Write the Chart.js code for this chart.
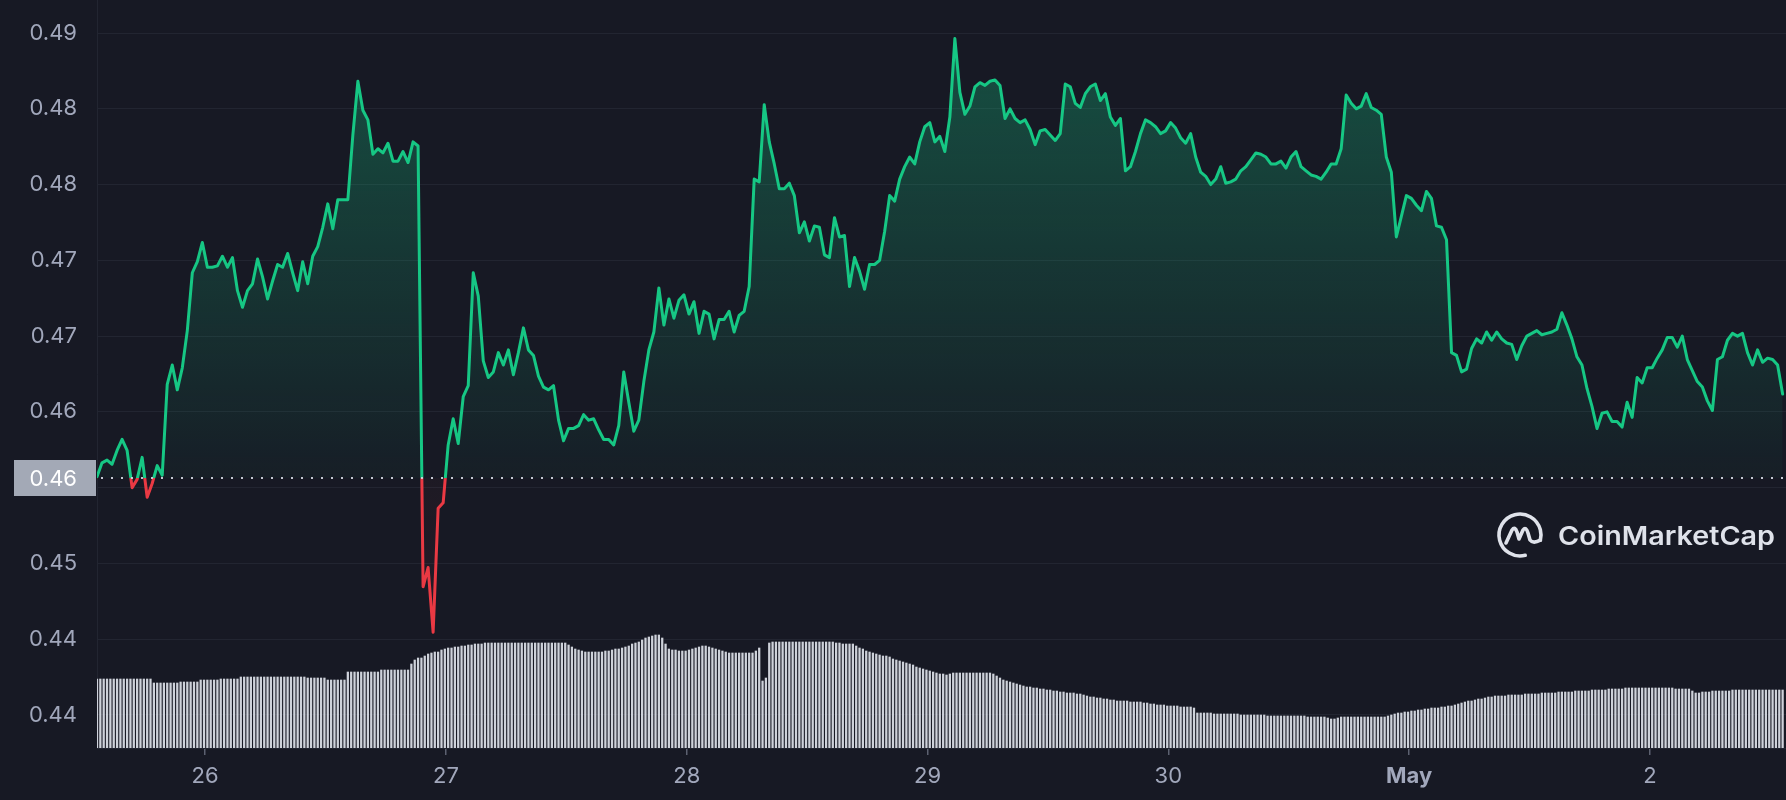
<!DOCTYPE html>
<html lang="en">
<head>
<meta charset="UTF-8">
<title>Price Chart</title>
<script src="https://cdn.jsdelivr.net/npm/chart.js"></script>
<style>
  html, body { margin: 0; padding: 0; background: #171924; }
  #wrap { width: 1786px; height: 800px; }
</style>
</head>
<body>
<div id="wrap"><canvas id="myChart" width="1786" height="800"></canvas></div>
<script>
// price, one point every 30 min over the 7 days
const PRICE = [
  0.4558, 0.4568, 0.4570, 0.4567, 0.4577, 0.4585, 0.4577, 0.4550, 0.4556, 0.4572,
  0.4543, 0.4553, 0.4566, 0.4559, 0.4625, 0.4639, 0.4621, 0.4637, 0.4664, 0.4706,
  0.4714, 0.4728, 0.4710, 0.4710, 0.4711, 0.4718, 0.4710, 0.4717, 0.4693, 0.4681,
  0.4693, 0.4698, 0.4716, 0.4703, 0.4687, 0.4700, 0.4712, 0.4710, 0.4720, 0.4706,
  0.4693, 0.4714, 0.4698, 0.4718, 0.4725, 0.4739, 0.4756, 0.4738, 0.4759, 0.4759,
  0.4759, 0.4806, 0.4845, 0.4824, 0.4817, 0.4792, 0.4796, 0.4793, 0.4800, 0.4787,
  0.4787, 0.4794, 0.4786, 0.4801, 0.4798, 0.4478, 0.4492, 0.4445, 0.4535, 0.4539,
  0.4581, 0.4600, 0.4582, 0.4616, 0.4624, 0.4706, 0.4689, 0.4642, 0.4630, 0.4634,
  0.4648, 0.4639, 0.4650, 0.4632, 0.4648, 0.4666, 0.4650, 0.4646, 0.4631, 0.4623,
  0.4621, 0.4624, 0.4599, 0.4584, 0.4593, 0.4593, 0.4595, 0.4603, 0.4599, 0.4600,
  0.4592, 0.4585, 0.4585, 0.4581, 0.4595, 0.4634, 0.4612, 0.4591, 0.4599, 0.4627,
  0.4650, 0.4663, 0.4695, 0.4668, 0.4687, 0.4673, 0.4686, 0.4690, 0.4676, 0.4685,
  0.4662, 0.4678, 0.4676, 0.4658, 0.4672, 0.4672, 0.4678, 0.4663, 0.4675, 0.4678,
  0.4696, 0.4774, 0.4772, 0.4828, 0.4801, 0.4785, 0.4767, 0.4767, 0.4771, 0.4762,
  0.4735, 0.4743, 0.4729, 0.4740, 0.4739, 0.4719, 0.4717, 0.4746, 0.4732, 0.4733,
  0.4696, 0.4717, 0.4707, 0.4694, 0.4712, 0.4712, 0.4715, 0.4736, 0.4762, 0.4758,
  0.4774, 0.4783, 0.4790, 0.4785, 0.4801, 0.4812, 0.4815, 0.4801, 0.4805, 0.4794,
  0.4819, 0.4876, 0.4837, 0.4821, 0.4827, 0.4841, 0.4844, 0.4842, 0.4845, 0.4846,
  0.4842, 0.4818, 0.4825, 0.4818, 0.4815, 0.4817, 0.4810, 0.4799, 0.4809, 0.4810,
  0.4806, 0.4802, 0.4807, 0.4843, 0.4841, 0.4829, 0.4826, 0.4836, 0.4841, 0.4843,
  0.4831, 0.4836, 0.4819, 0.4813, 0.4818, 0.4780, 0.4783, 0.4794, 0.4807, 0.4817,
  0.4815, 0.4812, 0.4807, 0.4809, 0.4815, 0.4811, 0.4804, 0.4800, 0.4807, 0.4790,
  0.4779, 0.4776, 0.4770, 0.4774, 0.4783, 0.4771, 0.4772, 0.4774, 0.4780, 0.4783,
  0.4788, 0.4793, 0.4792, 0.4790, 0.4785, 0.4785, 0.4787, 0.4782, 0.4790, 0.4794,
  0.4783, 0.4780, 0.4777, 0.4776, 0.4774, 0.4779, 0.4785, 0.4785, 0.4796, 0.4835,
  0.4829, 0.4825, 0.4827, 0.4836, 0.4826, 0.4824, 0.4821, 0.4790, 0.4779, 0.4732,
  0.4747, 0.4762, 0.4760, 0.4755, 0.4751, 0.4765, 0.4760, 0.4740, 0.4739, 0.4730,
  0.4648, 0.4646, 0.4634, 0.4636, 0.4651, 0.4658, 0.4655, 0.4663, 0.4657, 0.4663,
  0.4658, 0.4655, 0.4654, 0.4643, 0.4653, 0.4660, 0.4662, 0.4664, 0.4661, 0.4662,
  0.4663, 0.4665, 0.4677, 0.4668, 0.4658, 0.4645, 0.4639, 0.4622, 0.4609, 0.4593,
  0.4604, 0.4605, 0.4598, 0.4598, 0.4594, 0.4612, 0.4601, 0.4630, 0.4626, 0.4637,
  0.4637, 0.4644, 0.4650, 0.4659, 0.4659, 0.4652, 0.4660, 0.4643, 0.4635, 0.4627,
  0.4623, 0.4613, 0.4606, 0.4643, 0.4645, 0.4657, 0.4662, 0.4660, 0.4662, 0.4648,
  0.4639, 0.4650, 0.4641, 0.4644, 0.4643, 0.4639, 0.4618
];

// 24h volume (M), one bar every 20 min
const VOLUME = [
  69,69,69,69,69,69,69,69,69,69,69,69,69,69,69,69,69,
  65,65,65,65,65,65,65,65, 66,66,66,66,66,66, 68,68,68,68,68,68, 69,69,69,69,69,69,
  71,71,71,71,71,71,71,71,71,71,71,71,71,71,71,71,71,71,71,71,
  70,70,70,70,70,70, 68,68,68,68,68,68,
  76,76,76,76,76,76,76,76,76,76, 78,78,78,78,78,78,78,78,78,
  84,88,90,90, 92,94,95,96,96, 98,99,100,100,101,101,102,102, 103,103,104,104,104,105,105,
  105,105,105,105,105,105,105,105,105,105,105,105,105,105,105,105,105,105,105,105,105,105,105,
  103,101,99,98,97,96,96,96, 96,96,96,97,97,98,99, 99,100,101,102,104,105,106,
  108,110,111,112,113,113, 110,104,99, 98,98,97,97,97, 98,99,100,101,102,102,
  101,100,99, 98,97,96,95,95, 95,95,95,95,95,95, 97,100, 67,70,
  105,106,106,106,106,106,106,106, 106,106,106,106,106,106,106,106,106,106,106,106,
  105,105,104,104,104,104, 102,100,99,97,96, 95,94,93,92,92,91, 89,88,87,86,85,
  84,83,81,80,79,78, 77,76,75,74,74,73, 74,75,75,75,75,75,75,75,75,75,75,75,75,74,
  72,70,68, 67,66,65,64,63,62, 61,61,60,60,59,59,58,58, 57,57,56,56,55,55,55,54,54,
  53,52,51,51,50,50,49,49,48, 48,47,47,47,47,46,46,46,46, 45,45,44,44,43,43,
  43,42,42,42,42,41,41,41,41,40, 35,35,35,35,35,34,34,34,34,34,34,34,34,
  33,33,33,33,33,33,33,33,32,32,32,32,32,32,32, 32,32,32,32,32,31,31,31,31,31,31,
  30,29,29,30,31, 31,31,31,31,31,31,31,31,31,31,31,31,31, 32,33,34,35,35,
  36,36,37,37,38,38,39,39,40,40,40, 41,41,42,42,43,44, 45,46,47,47,48,49,49,50,51,
  51,52,52,52,52,53,53,53,53,53,54,54,54,54,54,55,55,55,55,55,56,56,56,56,
  56,57,57,57,57,57,58,58,58,58,58,59,59,59,59,59,60,60,60,60,60,60,60,60,
  60,60,60,60,60,60,60,59,59,59,59,59, 57,55,
  55,56,56,56,57,57,57,57,57,57,58,58,58,58,58,58,58,58,58,58,58,58,58,58,58,58
];

const BASELINE = 0.4557;        // opening price of the period
const START_DAY = 25.551;       // Apr 25, ~13:14
const SPAN_DAYS = 7;
const Y_TICKS = [0.4880, 0.4825, 0.4770, 0.4715, 0.4660, 0.4605, 0.4550, 0.4495, 0.4440, 0.4385];
const Y_TICK_LABELS = ['0.49', '0.48', '0.48', '0.47', '0.47', '0.46', '0.45', '0.45', '0.44', '0.44'];
const X_TICKS = [26, 27, 28, 29, 30, 31, 32];
const X_TICK_LABELS = ['26', '27', '28', '29', '30', 'May', '2'];

const GREEN = '#16c784';
const RED = '#ea3943';
const GRID = '#222531';
const LABEL = '#a1a7bb';
const WATERMARK = '#dfe2ea';

const priceData = PRICE.map((p, i) => ({ x: START_DAY + i * SPAN_DAYS / (PRICE.length - 1), y: p }));
const volData = VOLUME.map((v, i) => ({ x: START_DAY + i * SPAN_DAYS / (VOLUME.length - 1), y: v }));

function baseRatio(chart) {
  const a = chart.chartArea;
  const yb = chart.scales.y.getPixelForValue(BASELINE);
  return Math.min(1, Math.max(0, (yb - a.top) / (a.bottom - a.top)));
}

// line is green above the open price, red below
function splitStroke(chart) {
  const a = chart.chartArea;
  if (!a) return GREEN;
  const s = baseRatio(chart);
  const g = chart.ctx.createLinearGradient(0, a.top, 0, a.bottom);
  g.addColorStop(0, GREEN);
  g.addColorStop(s, GREEN);
  g.addColorStop(s, RED);
  g.addColorStop(1, RED);
  return g;
}

function areaFill(chart) {
  const a = chart.chartArea;
  if (!a) return 'rgba(22,199,132,0.2)';
  const s = baseRatio(chart);
  const g = chart.ctx.createLinearGradient(0, a.top, 0, a.bottom);
  g.addColorStop(0, 'rgba(22,199,132,0.34)');
  g.addColorStop(s, 'rgba(22,199,132,0.03)');
  g.addColorStop(s, 'rgba(234,57,67,0.03)');
  g.addColorStop(1, 'rgba(234,57,67,0.10)');
  return g;
}

function drawLogo(ctx, cx, cy, r) {
  ctx.save();
  ctx.strokeStyle = WATERMARK;
  ctx.lineWidth = 3.6;
  ctx.lineCap = 'round';
  ctx.lineJoin = 'round';
  ctx.beginPath();
  ctx.arc(cx, cy, r, 0.42 * Math.PI, 2.08 * Math.PI);
  ctx.stroke();
  const ex = cx + r * Math.cos(0.08 * Math.PI);
  const ey = cy + r * Math.sin(0.08 * Math.PI);
  ctx.beginPath();
  ctx.moveTo(cx - 14, cy + 8);
  ctx.lineTo(cx - 8, cy - 5);
  ctx.quadraticCurveTo(cx - 5, cy - 9, cx - 3, cy - 3);
  ctx.lineTo(cx - 1, cy + 4);
  ctx.lineTo(cx + 3, cy - 5);
  ctx.quadraticCurveTo(cx + 6, cy - 9, cx + 8, cy - 2);
  ctx.lineTo(cx + 10, cy + 5);
  ctx.quadraticCurveTo(cx + 13, cy + 9, ex, ey);
  ctx.stroke();
  ctx.restore();
}

const overlays = {
  id: 'overlays',
  beforeDatasetsDraw(chart) {
    const ctx = chart.ctx;
    drawLogo(ctx, 1520, 535, 21);
    ctx.save();
    ctx.fillStyle = WATERMARK;
    ctx.font = '600 26px Inter';
    ctx.textBaseline = 'alphabetic';
    const text = 'CoinMarketCap';
    const w = ctx.measureText(text).width;
    ctx.translate(1558, 545);
    ctx.scale(217 / w, 1);
    ctx.fillText(text, 0, 0);
    ctx.restore();
  },
  afterDatasetsDraw(chart) {
    const ctx = chart.ctx;
    const a = chart.chartArea;
    const yb = Math.round(chart.scales.y.getPixelForValue(BASELINE));
    ctx.save();
    ctx.strokeStyle = 'rgba(214,218,228,0.9)';
    ctx.lineWidth = 2;
    ctx.setLineDash([2, 8]);
    ctx.beginPath();
    ctx.moveTo(a.left + 4, yb);
    ctx.lineTo(a.right, yb);
    ctx.stroke();
    ctx.restore();
  },
  afterDraw(chart) {
    const ctx = chart.ctx;
    const yb = chart.scales.y.getPixelForValue(BASELINE);
    ctx.save();
    ctx.fillStyle = '#a3a9b6';
    ctx.fillRect(14, yb - 18, 82, 36);
    ctx.fillStyle = '#ffffff';
    ctx.font = '22px Inter';
    ctx.textAlign = 'right';
    ctx.textBaseline = 'middle';
    ctx.fillText(BASELINE.toFixed(2), 77, yb + 1);
    ctx.restore();
  }
};

Chart.defaults.font.family = 'Inter';

const ctx = document.getElementById('myChart').getContext('2d');
const myChart = new Chart(ctx, {
  data: {
    datasets: [
      {
        type: 'line',
        data: priceData,
        yAxisID: 'y',
        order: 1,
        borderWidth: 3,
        borderColor: c => splitStroke(c.chart),
        backgroundColor: c => areaFill(c.chart),
        fill: { value: BASELINE },
        pointRadius: 0,
        tension: 0,
        borderJoinStyle: 'round',
        borderCapStyle: 'round'
      },
      {
        type: 'bar',
        data: volData,
        yAxisID: 'yv',
        order: 2,
        backgroundColor: 'rgba(222,226,234,0.92)',
        borderWidth: 0,
        barThickness: 1.6
      }
    ]
  },
  options: {
    responsive: false,
    animation: false,
    devicePixelRatio: 1,
    layout: { padding: 0 },
    plugins: {
      legend: { display: false },
      tooltip: { enabled: false }
    },
    scales: {
      x: {
        type: 'linear',
        offset: false,
        min: START_DAY,
        max: START_DAY + 7.014,
        afterBuildTicks: s => { s.ticks = X_TICKS.map(v => ({ value: v })); },
        afterFit: s => { s.height = 52; s.paddingLeft = 0; s.paddingRight = 0; },
        ticks: {
          callback: (v, i) => X_TICK_LABELS[i],
          color: LABEL,
          font: c => ({ family: 'Inter', size: 22, weight: (c.tick && c.tick.value === 31) ? 'bold' : 'normal' }),
          padding: 8,
          maxRotation: 0,
          autoSkip: false
        },
        grid: { offset: false, drawOnChartArea: false, drawTicks: true, tickLength: 7, color: '#5c6170', lineWidth: 1.5 },
        border: { display: true, color: GRID }
      },
      y: {
        position: 'left',
        min: 0.4361,
        max: 0.4904,
        afterBuildTicks: s => { s.ticks = Y_TICKS.map(v => ({ value: v })); },
        afterFit: s => { s.width = 97; s.paddingTop = 0; s.paddingBottom = 0; },
        ticks: {
          callback: (v, i) => Y_TICK_LABELS[i],
          color: LABEL,
          font: { family: 'Inter', size: 22 },
          padding: 20
        },
        grid: { color: GRID, drawTicks: false, lineWidth: 1 },
        border: { display: true, color: GRID }
      },
      yv: {
        display: false,
        min: 0,
        max: 748
      }
    }
  },
  plugins: [overlays]
});
</script>
</body>
</html>
